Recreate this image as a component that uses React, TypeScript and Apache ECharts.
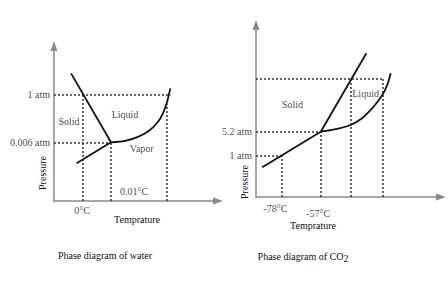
import React, { useEffect, useRef } from 'react';
import * as echarts from 'echarts';

// ---- Water phase diagram (schematic units) ----
const waterSolidLiquid = [[10.1, 79.8], [33.7, 36.7]];
const waterSolidVapor = [[13.4, 23.6], [33.7, 36.7]];
const waterLiquidVapor = [[33.7, 36.7], [42, 37.6], [50, 40.2], [56.8, 44.4], [61.5, 49.5], [64.5, 55], [66.6, 61], [68, 66.7], [68.8, 70.4]];
const waterGuides = [
  [[0, 66.7], [68.9, 66.7]],
  [[0, 36.7], [33.7, 36.7]],
  [[17, 0], [17, 66.7]],
  [[33.7, 0], [33.7, 36.7]],
  [[66.7, 0], [66.7, 61]],
];
const waterPressureTicks = [[0, 66.7, '1 atm'], [0, 36.7, '0.006 atm']];
const waterTempTicks = [[16.6, 0, '0°C']];
const waterRegions = [[8.9, 49.6, 'Solid'], [42, 53.8, 'Liquid'], [51.9, 33.1, 'Vapor'], [47.3, 5.8, '0.01°C']];

// ---- CO2 phase diagram (schematic units) ----
const co2SolidLiquid = [[34.1, 36.9], [58.1, 81.2]];
const co2SolidVapor = [[3.3, 16.8], [34.1, 36.9]];
const co2LiquidVapor = [[34.1, 36.9], [42, 38.3], [49.8, 40.7], [55.5, 44.2], [60.4, 49.2], [64, 53.8], [66.5, 57.6], [68.4, 61.5], [69.8, 65.5], [70.9, 69.9]];
const co2Guides = [
  [[0, 66.7], [66.5, 66.7]],
  [[0, 36.9], [34.1, 36.9]],
  [[0, 23.3], [13.3, 23.3]],
  [[13.3, 0], [13.3, 23.3]],
  [[34.1, 0], [34.1, 36.9]],
  [[49.8, 0], [49.8, 66.7]],
  [[66.5, 0], [66.5, 66.7]],
];
const co2PressureTicks = [[0, 36.9, '5.2 atm'], [0, 23.3, '1 atm']];
const co2TempTicks = [[10.2, 0, '-78°C'], [32.7, 0, '-57°C']];
const co2Regions = [[19.2, 52.5, 'Solid'], [57.7, 58.6, 'Liquid']];

const axisTitles = ['Temprature', 'Pressure'];
const captions = ['Phase diagram of water', 'Phase diagram of CO{s|2}'];

const FONT = 'Liberation Serif';
const TXT = '#111';
const FS = 10;

function axisDef(idx: number, max: number) {
  return {
    type: 'value',
    gridIndex: idx,
    min: 0,
    max,
    axisLine: {
      show: true,
      symbol: ['none', 'triangle'],
      symbolSize: [7, 10],
      lineStyle: { color: '#8a8a8a', width: 1.5 },
    },
    axisTick: { show: false },
    axisLabel: { show: false },
    splitLine: { show: false },
  };
}

function curve(idx: number, data: number[][], smooth: boolean) {
  return {
    type: 'line',
    xAxisIndex: idx,
    yAxisIndex: idx,
    data,
    smooth: smooth ? 0.3 : false,
    symbol: 'none',
    silent: true,
    lineStyle: { color: '#111', width: 1.8 },
  };
}

function guides(idx: number, segs: number[][][]) {
  return {
    type: 'lines',
    coordinateSystem: 'cartesian2d',
    xAxisIndex: idx,
    yAxisIndex: idx,
    silent: true,
    data: segs.map((s) => ({ coords: s })),
    lineStyle: { color: '#333', width: 1.5, type: [2, 2], opacity: 1 },
  };
}

function labels(idx: number, data: any[], position: string, distances?: number[]) {
  return {
    type: 'scatter',
    xAxisIndex: idx,
    yAxisIndex: idx,
    symbolSize: 0,
    silent: true,
    clip: false,
    data: data.map((d, i) => ({
      value: d,
      label: distances ? { distance: distances[i] } : undefined,
    })),
    label: {
      show: true,
      position,
      distance: 4,
      formatter: (p: any) => p.value[2],
      fontFamily: FONT,
      fontSize: FS,
      color: TXT,
      textBorderWidth: 0,
      textBorderColor: 'transparent',
    },
  };
}

function text(str: string, x: number, y: number, rotate = 0) {
  return {
    type: 'text',
    x,
    y,
    rotation: rotate,
    silent: true,
    style: {
      text: str,
      fontFamily: FONT,
      fontSize: FS,
      fill: TXT,
      align: 'center',
      verticalAlign: 'middle',
      rich: {
        s: { fontFamily: FONT, fontSize: FS, fill: TXT, padding: [5, 0, 0, 0] },
      },
    },
  };
}

export default function App() {
  const ref = useRef<HTMLDivElement>(null);
  useEffect(() => {
    if (!ref.current) return;
    const chart = echarts.init(ref.current, null, { renderer: 'svg' });
    chart.setOption({
      animation: false,
      backgroundColor: '#fff',
      grid: [
        { left: 54, top: 46, width: 164, height: 155 },
        { left: 256, top: 25, width: 185, height: 172 },
      ],
      xAxis: [axisDef(0, 97), axisDef(1, 97.4)],
      yAxis: [axisDef(0, 96.9), axisDef(1, 97.2)],
      series: [
        guides(0, waterGuides),
        curve(0, waterSolidLiquid, false),
        curve(0, waterSolidVapor, false),
        curve(0, waterLiquidVapor, true),
        labels(0, waterPressureTicks, 'left'),
        labels(0, waterTempTicks, 'bottom'),
        labels(0, waterRegions, 'inside'),
        guides(1, co2Guides),
        curve(1, co2SolidLiquid, false),
        curve(1, co2SolidVapor, false),
        curve(1, co2LiquidVapor, true),
        labels(1, co2PressureTicks, 'left'),
        labels(1, co2TempTicks, 'bottom', [6, 11]),
        labels(1, co2Regions, 'inside'),
      ],
      graphic: [
        text(axisTitles[0], 137, 219),
        text(axisTitles[0], 313, 225),
        text(axisTitles[1], 42, 173, Math.PI / 2),
        text(axisTitles[1], 244, 182, Math.PI / 2),
        text(captions[0], 105, 255),
        text(captions[1], 303, 256),
      ],
    });
    return () => chart.dispose();
  }, []);
  return (
    <div
      ref={ref}
      style={{ position: 'fixed', left: 0, top: 0, width: 448, height: 281 }}
    />
  );
}
